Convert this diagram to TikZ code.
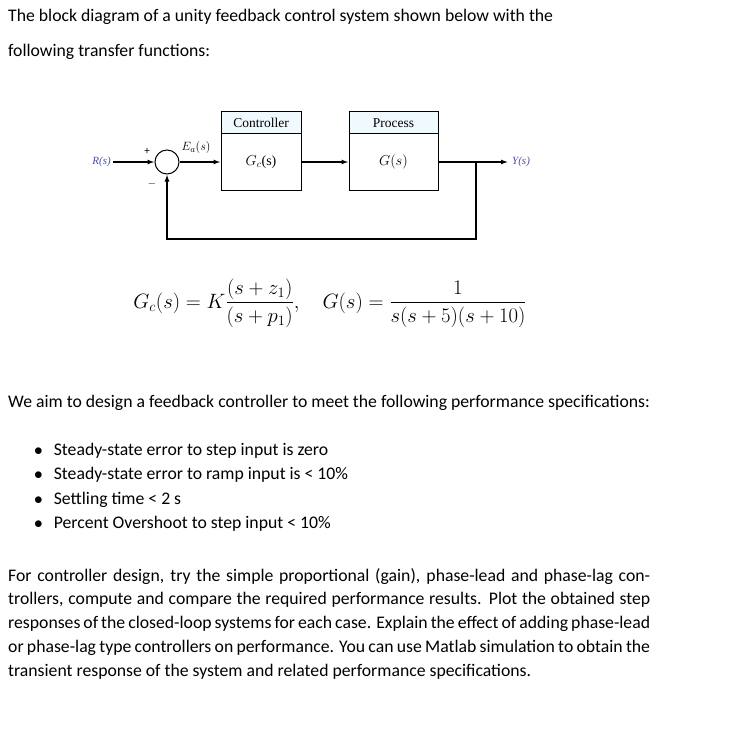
\documentclass[tikz,border=0pt]{standalone}
\usepackage{amsmath}
\usepackage{fontspec}
\setmainfont{Carlito}
\newfontfamily\tms{Liberation Serif}
\usetikzlibrary{arrows.meta}
\begin{document}
\begin{tikzpicture}[x=1pt,y=-1pt,
  line/.style={line width=1.3pt},
  arr/.style={line, -{Latex[length=7pt,width=5pt]}},
  blk/.style={draw, line width=1pt},
  txt/.style={anchor=north west, inner sep=0pt, text width=642pt, align=justify, font=\fontsize{17.7}{23.8}\selectfont}]
\useasboundingbox (0,0) rectangle (746,730);
% title
\node[anchor=west, inner sep=0pt, font=\fontsize{17.7}{20}\selectfont] (t1) at (8,17) {The block diagram of a unity feedback control system shown below with the};
\node[anchor=west, inner sep=0pt, font=\fontsize{17.7}{20}\selectfont] (t2) at (8,52) {following transfer functions:};
% block diagram
\node[blk, minimum width=80pt, minimum height=22pt, fill=cyan!6, font=\tms\fontsize{13.5}{14}\selectfont] (ch) at (261,123) {Controller};
\node[blk, minimum width=80pt, minimum height=56pt, font=\tms\fontsize{14}{14}\selectfont] (c) at (261,162) {$G_c$(s)};
\node[blk, minimum width=89pt, minimum height=22pt, fill=cyan!6, font=\tms\fontsize{13.5}{14}\selectfont] (ph) at (393.5,123) {Process};
\node[blk, minimum width=89pt, minimum height=56pt, font=\tms\fontsize{14}{14}\selectfont] (p) at (393.5,162) {$G(s)$};
\node[draw, circle, line width=1pt, minimum size=24pt, inner sep=0pt] (sum) at (167,162) {};
\node[anchor=east, text=blue!40!gray, font=\tms\itshape\fontsize{11}{12}\selectfont, inner sep=2pt] (r) at (113,162) {R(s)};
\node[anchor=west, text=blue!40!gray, font=\tms\itshape\fontsize{11}{12}\selectfont, inner sep=0pt] (y) at (512,162) {Y(s)};
\coordinate (yend) at (508,162);
\coordinate (br) at (476,162);
\coordinate (bl) at (476,239);
\coordinate (bll) at (167,239);
\draw[arr] (r) -- (sum);
\draw[arr] (sum) -- (c);
\draw[arr] (c) -- (p);
\draw[arr] (p) -- (yend);
\draw[arr] (br) -- (bl) -- (bll) -- (sum);
\node[font=\fontsize{13}{13}\selectfont] (ea) at (196,148) {$E_a(s)$};
\node[font=\fontsize{11}{11}\selectfont] (pl) at (147,151) {+};
\node[font=\fontsize{11}{11}\selectfont] (mi) at (152,184) {$-$};
% equations
\node[font=\fontsize{19.5}{22}\selectfont] (eq) at (330,303) {$G_c(s)=K\dfrac{(s+z_1)}{(s+p_1)},\quad G(s)=\dfrac{1}{s(s+5)(s+10)}$};
% text
\node[txt] (p1) at (8,395) {We aim to design a feedback controller to meet the following performance specifications:};
\node[anchor=north west, inner sep=0pt, font=\fontsize{17.7}{24.5}\selectfont, align=left] (bul) at (34,443) {%
$\bullet$\hspace{11pt}Steady-state error to step input is zero\\
$\bullet$\hspace{11pt}Steady-state error to ramp input is < 10\%\\
$\bullet$\hspace{11pt}Settling time < 2 s\\
$\bullet$\hspace{11pt}Percent Overshoot to step input < 10\%};
\node[txt] (p2) at (8,568) {For controller design, try the simple proportional (gain), phase-lead and phase-lag controllers, compute and compare the required performance results. Plot the obtained step responses of the closed-loop systems for each case. Explain the effect of adding phase-lead or phase-lag type controllers on performance. You can use Matlab simulation to obtain the transient response of the system and related performance specifications.};
\end{tikzpicture}
\end{document}
